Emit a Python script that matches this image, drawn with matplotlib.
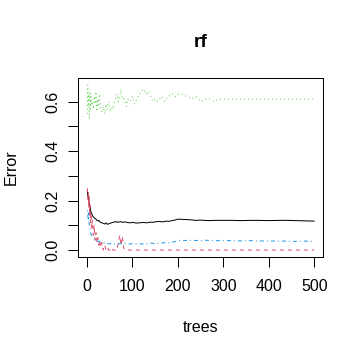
import matplotlib
matplotlib.use("Agg")
import matplotlib.pyplot as plt

plt.rcParams['font.family'] = ['Liberation Sans', 'DejaVu Sans']

trees = ([1, 2, 3, 4, 5, 6, 7, 8, 9, 10]
         + list(range(12, 31, 2))
         + list(range(33, 91, 3))
         + list(range(95, 201, 5))
         + list(range(210, 301, 10))
         + list(range(320, 501, 20)))

oob = [0.24, 0.22, 0.23, 0.20, 0.19, 0.18, 0.17, 0.16, 0.155, 0.15,
       0.14, 0.135, 0.13, 0.128, 0.125, 0.12, 0.118, 0.12, 0.115, 0.112,
       0.11, 0.108, 0.105, 0.11, 0.104, 0.106, 0.108, 0.11, 0.112, 0.113,
       0.115, 0.112, 0.114, 0.113, 0.115, 0.112, 0.113, 0.114, 0.112, 0.111,
       0.11, 0.112, 0.11, 0.109, 0.11, 0.111, 0.112, 0.11, 0.111, 0.113,
       0.112, 0.114, 0.115, 0.116, 0.114, 0.115, 0.117, 0.116, 0.118, 0.12,
       0.122, 0.125,
       0.124, 0.123, 0.122, 0.12, 0.121, 0.12, 0.119, 0.12, 0.12, 0.12,
       0.12, 0.119, 0.12, 0.12, 0.119, 0.12, 0.12, 0.119, 0.118, 0.117]

class1 = [0.25, 0.20, 0.24, 0.17, 0.22, 0.14, 0.18, 0.11, 0.15, 0.09,
          0.12, 0.06, 0.10, 0.04, 0.07, 0.03, 0.05, 0.02, 0.04, 0.01,
          0.03, 0.0, 0.02, 0.0, 0.01, 0.0, 0.0, 0.01, 0.0, 0.0,
          0.0, 0.0, 0.03, 0.06, 0.02, 0.055, 0.01, 0.0, 0.0, 0.0,
          0.0, 0.0, 0.0, 0.0, 0.0, 0.0, 0.0, 0.0, 0.0, 0.0,
          0.0, 0.0, 0.0, 0.0, 0.0, 0.0, 0.0, 0.0, 0.0, 0.0,
          0.0, 0.0,
          0.0, 0.0, 0.0, 0.0, 0.0, 0.0, 0.0, 0.0, 0.0, 0.0,
          0.0, 0.0, 0.0, 0.0, 0.0, 0.0, 0.0, 0.0, 0.0, 0.0]

class2 = [0.55, 0.667, 0.58, 0.63, 0.53, 0.60, 0.64, 0.57, 0.62, 0.59,
          0.60, 0.57, 0.62, 0.59, 0.64, 0.56, 0.61, 0.58, 0.63, 0.57,
          0.56, 0.58, 0.55, 0.59, 0.57, 0.60, 0.56, 0.58, 0.57, 0.59,
          0.61, 0.63, 0.60, 0.62, 0.65, 0.61, 0.62, 0.60, 0.58, 0.61,
          0.60, 0.62, 0.59, 0.61, 0.63, 0.64, 0.65, 0.63, 0.64, 0.62,
          0.60, 0.61, 0.60, 0.61, 0.62, 0.60, 0.61, 0.62, 0.63, 0.63,
          0.62, 0.63,
          0.63, 0.62, 0.61, 0.62, 0.60, 0.61, 0.61, 0.60, 0.61, 0.61,
          0.61, 0.61, 0.61, 0.61, 0.61, 0.61, 0.61, 0.61, 0.61, 0.61]

class3 = [0.16, 0.14, 0.12, 0.15, 0.10, 0.09, 0.08, 0.07, 0.065, 0.06,
          0.055, 0.05, 0.048, 0.045, 0.04, 0.038, 0.036, 0.035, 0.033, 0.032,
          0.03, 0.03, 0.028, 0.03, 0.027, 0.026, 0.025, 0.027, 0.025, 0.024,
          0.026, 0.025, 0.027, 0.025, 0.026, 0.024, 0.025, 0.026, 0.025, 0.025,
          0.025, 0.026, 0.025, 0.025, 0.026, 0.025, 0.025, 0.026, 0.025, 0.028,
          0.027, 0.028, 0.028, 0.027, 0.028, 0.03, 0.029, 0.03, 0.031, 0.033,
          0.035, 0.038,
          0.04, 0.038, 0.04, 0.039, 0.038, 0.04, 0.039, 0.038, 0.038, 0.039,
          0.038, 0.037, 0.038, 0.037, 0.036, 0.037, 0.036, 0.035, 0.036, 0.035]

series = [oob, class1, class2, class3]
colors = ['black', '#DF536B', '#61D04F', '#2297E6']
dashes = [None, (4, 4), (1, 3), (1, 3, 4, 3)]

fig = plt.figure(figsize=(364 / 96, 355 / 96), dpi=96)
ax = fig.add_axes([78.3 / 364, (355 - 256.7) / 355, 245 / 364, 178.4 / 355])

for vals, col, d in zip(series, colors, dashes):
    line, = ax.plot(trees, vals, color=col, linewidth=0.75)
    if d is not None:
        line.set_dashes(d)

ymax = max(max(s) for s in series)
ax.set_xlim(1 - 0.04 * 499, 500 + 0.04 * 499)
ax.set_ylim(-0.04 * ymax, ymax * 1.04)

ax.set_xticks([0, 100, 200, 300, 400, 500])
ax.set_yticks([0.0, 0.1, 0.2, 0.3, 0.4, 0.5, 0.6])
ax.set_yticklabels(['0.0', '', '0.2', '', '0.4', '', '0.6'], rotation=90, va='center')
ax.tick_params(length=7.2, width=0.75, labelsize=12)
ax.tick_params(axis='x', pad=9.5)
ax.tick_params(axis='y', pad=6.5)
for sp in ax.spines.values():
    sp.set_linewidth(0.75)

ax.set_xlabel('trees', fontsize=12, labelpad=19.5)
ax.set_ylabel('Error', fontsize=12, labelpad=20)
ax.set_title('rf', fontsize=14.4, fontweight='bold', pad=23.5)

fig.savefig('out.png', dpi=96)
